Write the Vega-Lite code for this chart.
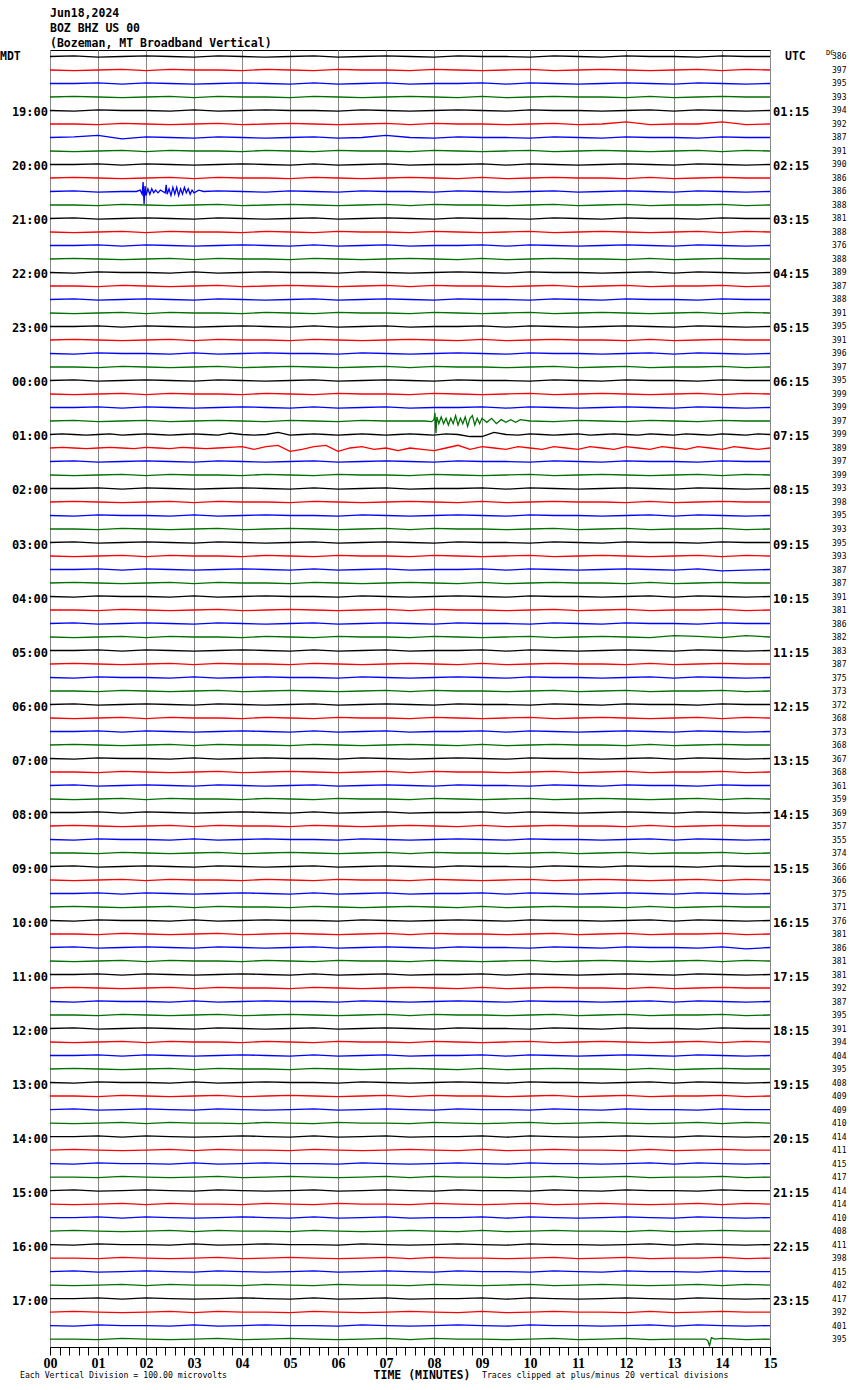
{
"$schema": "https://vega.github.io/schema/vega-lite/v6.json",
"width": 720, "height": 1297,
"autosize": {"type": "none"},
"padding": {"left": 50, "top": 50, "right": 80, "bottom": 43},
"background": "white",
"config": {"view": {"stroke": "#000", "strokeWidth": 1}, "font": "DejaVu Sans Mono"},
"title": {"text": ["Jun18,2024", "BOZ BHZ US 00", "(Bozeman, MT Broadband Vertical)"], "anchor": "start", "frame": "group", "font": "DejaVu Sans Mono", "fontSize": 11.5, "fontWeight": "bold", "color": "#000", "lineHeight": 15, "offset": 3, "dy": 14, "baseline": "bottom"},
"datasets": {
"grids": [
{"g":"a","x":[0,0.5,1,1.5,2,2.5,3,3.5,4,4.5,5,5.5,6,6.5,7,7.5,8,8.5,9,9.5,10,10.5,11,11.5,12,12.5,13,13.5,14,14.5,15]},
{"g":"b","x":[0,0.25,0.5,0.75,1,1.25,1.5,1.75,2,2.25,2.5,2.75,3,3.25,3.5,3.75,4,4.25,4.5,4.75,5,5.25,5.5,5.75,6,6.25,6.5,6.75,7,7.25,7.5,7.75,8,8.25,8.5,8.75,9,9.25,9.5,9.75,10,10.25,10.5,10.75,11,11.25,11.5,11.75,12,12.25,12.5,12.75,13,13.25,13.5,13.75,14,14.25,14.5,14.75,15]},
{"g":"e10","x":[0,0.5,1,1.5,1.8,1.88,1.92,1.94,1.96,1.98,2,2.04,2.08,2.12,2.16,2.2,2.25,2.3,2.35,2.4,2.42,2.44,2.48,2.52,2.56,2.6,2.64,2.68,2.72,2.76,2.8,2.84,2.88,2.92,2.96,3,3.1,3.2,3.5,4,4.5,5,5.5,6,6.5,7,7.5,8,8.5,9,9.5,10,10.5,11,11.5,12,12.5,13,13.5,14,14.5,15]},
{"g":"e27","x":[0,0.5,1,1.5,2,2.5,3,3.5,4,4.5,5,5.5,6,6.5,7,7.5,7.8,7.95,8,8.02,8.04,8.06,8.1,8.15,8.2,8.25,8.3,8.35,8.4,8.45,8.5,8.55,8.6,8.65,8.7,8.75,8.8,8.85,8.9,8.95,9,9.1,9.2,9.3,9.4,9.5,9.6,9.7,9.8,10,10.5,11,11.5,12,12.5,13,13.5,14,14.5,15]},
{"g":"e95","x":[0,0.5,1,1.5,2,2.5,3,3.5,4,4.5,5,5.5,6,6.5,7,7.5,8,8.5,9,9.5,10,10.5,11,11.5,12,12.5,13,13.5,13.65,13.7,13.74,13.78,13.85,14,14.5,15]}
],
"traces": [
{"t":0,"m":0,"g":"a","v":[0,1,-1,0,1,0,-1,1,0,-1,0,1,-1,0,1,0,-1,1,0,0,-1,1,0,-1,1,0,0,-1,1,0,0]},
{"t":1,"m":15,"g":"a","v":[0,-1,0,1,-1,1,0,0,-1,1,0,-1,1,0,0,-1,1,0,-1,0,1,-1,0,1,0,-1,0,1,-1,1,0]},
{"t":2,"m":30,"g":"a","v":[0,0,1,-1,1,0,-1,0,1,0,-1,1,-1,0,1,-1,0,0,1,-1,1,0,-1,0,1,0,-1,1,0,-1,0]},
{"t":3,"m":45,"g":"a","v":[0,1,0,-1,0,1,-1,1,0,0,-1,1,0,-1,0,1,0,-1,1,-1,0,1,0,0,-1,1,-1,0,1,0,0]},
{"t":4,"m":0,"g":"a","v":[0,-1,1,0,0,-1,1,-1,0,1,0,0,-1,1,0,-1,0,1,0,-1,1,0,0,-1,0,1,-1,1,0,-1,0]},
{"t":5,"m":15,"g":"a","v":[0,0,-1,1,0,-1,0,1,-1,0,1,0,-1,0,1,-1,1,0,0,-1,0,1,-1,0,3,-1,0,0,3,-1,0]},
{"t":6,"m":30,"g":"a","v":[0,1,3,-2,1,0,-1,1,0,-1,0,1,-1,0,3,0,-1,1,0,0,-1,1,0,-1,1,0,0,-1,1,0,0]},
{"t":7,"m":45,"g":"a","v":[0,-1,0,1,-1,1,0,0,-1,1,0,-1,1,0,0,-1,1,0,-1,0,1,-1,0,1,0,-1,0,1,-1,1,0]},
{"t":8,"m":0,"g":"a","v":[0,0,1,-1,1,0,-1,0,1,0,-1,1,-1,0,1,-1,0,0,1,-1,1,0,-1,0,1,0,-1,1,0,-1,0]},
{"t":9,"m":15,"g":"a","v":[0,1,0,-1,0,1,-1,1,0,0,-1,1,0,-1,0,1,0,-1,1,-1,0,1,0,0,-1,1,-1,0,1,0,0]},
{"t":10,"m":30,"g":"e10","v":[0,1,-1,0,0,2,-4,14,-19,8,-6,4,-4,4,-2,2,-2,2,0,-2,10,-4,4,-6,6,-4,6,-6,4,-4,6,-2,4,-4,2,-2,2,0,1,0,-1,1,0,-1,1,0,0,-1,1,0,-1,0,1,-1,0,1,0,-1,1,0,-1,0]},
{"t":11,"m":45,"g":"a","v":[0,0,-1,1,0,-1,0,1,-1,0,1,0,-1,0,1,-1,1,0,0,-1,0,1,-1,0,1,-1,0,0,1,-1,0]},
{"t":12,"m":0,"g":"a","v":[0,1,-1,0,1,0,-1,1,0,-1,0,1,-1,0,1,0,-1,1,0,0,-1,1,0,-1,1,0,0,-1,1,0,0]},
{"t":13,"m":15,"g":"a","v":[0,-1,0,1,-1,1,0,0,-1,1,0,-1,1,0,0,-1,1,0,-1,0,1,-1,0,1,0,-1,0,1,-1,1,0]},
{"t":14,"m":30,"g":"a","v":[0,0,1,-1,1,0,-1,0,1,0,-1,1,-1,0,1,-1,0,0,1,-1,1,0,-1,0,1,0,-1,1,0,-1,0]},
{"t":15,"m":45,"g":"a","v":[0,1,0,-1,0,1,-1,1,0,0,-1,1,0,-1,0,1,0,-1,1,-1,0,1,0,0,-1,1,-1,0,1,0,0]},
{"t":16,"m":0,"g":"a","v":[0,-1,1,0,0,-1,1,-1,0,1,0,0,-1,1,0,-1,0,1,0,-1,1,0,0,-1,0,1,-1,1,0,-1,0]},
{"t":17,"m":15,"g":"a","v":[0,0,-1,1,0,-1,0,1,-1,0,1,0,-1,0,1,-1,1,0,0,-1,0,1,-1,0,1,-1,0,0,1,-1,0]},
{"t":18,"m":30,"g":"a","v":[0,1,-1,0,1,0,-1,1,0,-1,0,1,-1,0,1,0,-1,1,0,0,-1,1,0,-1,1,0,0,-1,1,0,0]},
{"t":19,"m":45,"g":"a","v":[0,-1,0,1,-1,1,0,0,-1,1,0,-1,1,0,0,-1,1,0,-1,0,1,-1,0,1,0,-1,0,1,-1,1,0]},
{"t":20,"m":0,"g":"a","v":[0,0,1,-1,1,0,-1,0,1,0,-1,1,-1,0,1,-1,0,0,1,-1,1,0,-1,0,1,0,-1,1,0,-1,0]},
{"t":21,"m":15,"g":"a","v":[0,1,0,-1,0,1,-1,1,0,0,-1,1,0,-1,0,1,0,-1,1,-1,0,1,0,0,-1,1,-1,0,1,0,0]},
{"t":22,"m":30,"g":"a","v":[0,-1,1,0,0,-1,1,-1,0,1,0,0,-1,1,0,-1,0,1,0,-1,1,0,0,-1,0,1,-1,1,0,-1,0]},
{"t":23,"m":45,"g":"a","v":[0,0,-1,1,0,-1,0,1,-1,0,1,0,-1,0,1,-1,1,0,0,-1,0,1,-1,0,1,-1,0,0,1,-1,0]},
{"t":24,"m":0,"g":"a","v":[0,1,-1,0,1,0,-1,1,0,-1,0,1,-1,0,1,0,-1,1,0,0,-1,1,0,-1,1,0,0,-1,1,0,0]},
{"t":25,"m":15,"g":"a","v":[0,-1,0,1,-1,1,0,0,-1,1,0,-1,1,0,0,-1,1,0,-1,0,1,-1,0,1,0,-1,0,1,-1,1,0]},
{"t":26,"m":30,"g":"a","v":[0,0,1,-1,1,0,-1,0,1,0,-1,1,-1,0,1,-1,0,0,1,-1,1,0,-1,0,1,0,-1,1,0,-1,0]},
{"t":27,"m":45,"g":"e27","v":[0,1,-1,0,1,-1,0,1,0,-1,1,0,-1,1,0,0,0,-1,2,12,-18,6,-4,6,-4,4,-6,4,-4,8,-6,4,-4,6,-8,4,8,-6,4,-4,4,-2,4,-4,2,-2,2,-2,2,0,-1,1,0,-1,1,0,-1,1,0,0]},
{"t":28,"m":0,"g":"b","v":[0,1,0,-1,0,1,-1,0,1,0,-1,0,1,0,-1,2,0,-1,0,3,-1,0,1,0,-1,0,1,0,-1,0,1,0,-1,1,0,-3,-3,3,0,-1,1,0,-1,0,1,-1,0,1,0,-1,1,0,-1,1,0,-1,1,0,-1,1,0]},
{"t":29,"m":15,"g":"b","v":[0,1,0,-1,0,1,0,-1,1,0,-1,1,0,-1,0,1,2,-2,2,4,-5,-2,2,4,-5,0,2,-2,0,-4,0,-2,-4,0,4,-2,2,0,-2,2,0,-2,2,0,-2,2,0,-2,2,0,-2,2,0,-2,2,0,-2,2,0,-2,0]},
{"t":30,"m":30,"g":"a","v":[0,1,-1,0,1,0,-1,1,0,-1,0,1,-1,0,1,0,-1,1,0,0,-1,1,0,-1,1,0,0,-1,1,0,0]},
{"t":31,"m":45,"g":"a","v":[0,-1,0,1,-1,1,0,0,-1,1,0,-1,1,0,0,-1,1,0,-1,0,1,-1,0,1,0,-1,0,1,-1,1,0]},
{"t":32,"m":0,"g":"a","v":[0,0,1,-1,1,0,-1,0,1,0,-1,1,-1,0,1,-1,0,0,1,-1,1,0,-1,0,1,0,-1,1,0,-1,0]},
{"t":33,"m":15,"g":"a","v":[0,1,0,-1,0,1,-1,1,0,0,-1,1,0,-1,0,1,0,-1,1,-1,0,1,0,0,-1,1,-1,0,1,0,0]},
{"t":34,"m":30,"g":"a","v":[0,-1,1,0,0,-1,1,-1,0,1,0,0,-1,1,0,-1,0,1,0,-1,1,0,0,-1,0,1,-1,1,0,-1,0]},
{"t":35,"m":45,"g":"a","v":[0,0,-1,1,0,-1,0,1,-1,0,1,0,-1,0,1,-1,1,0,0,-1,0,1,-1,0,1,-1,0,0,1,-1,0]},
{"t":36,"m":0,"g":"a","v":[0,1,-1,0,1,0,-1,1,0,-1,0,1,-1,0,1,0,-1,1,0,0,-1,1,0,-1,1,0,0,-1,1,0,0]},
{"t":37,"m":15,"g":"a","v":[0,-1,0,1,-1,1,0,0,-1,1,0,-1,1,0,0,-1,1,0,-1,0,1,-1,0,1,0,-1,0,1,-1,1,0]},
{"t":38,"m":30,"g":"a","v":[0,0,1,-1,1,0,-1,0,1,0,-1,1,-1,0,1,-1,0,0,1,-1,1,0,-1,0,1,0,-1,1,-2,-1,0]},
{"t":39,"m":45,"g":"a","v":[0,1,0,-1,0,1,-1,1,0,0,-1,1,0,-1,0,1,0,-1,1,-1,0,1,0,0,-1,1,-1,0,1,0,0]},
{"t":40,"m":0,"g":"a","v":[0,-1,1,0,0,-1,1,-1,0,1,0,0,-1,1,0,-1,0,1,0,-1,1,0,0,-1,0,1,-1,1,0,-1,0]},
{"t":41,"m":15,"g":"a","v":[0,0,-1,1,0,-1,0,1,-1,0,1,0,-1,0,1,-1,1,0,0,-1,0,1,-1,0,1,-1,0,0,1,-1,0]},
{"t":42,"m":30,"g":"a","v":[0,1,-1,0,1,0,-1,1,0,-1,0,1,-1,0,1,0,-1,1,0,0,-1,1,0,-1,1,0,0,-1,1,0,0]},
{"t":43,"m":45,"g":"a","v":[0,-1,0,1,-1,1,0,0,-1,1,0,-1,1,0,0,-1,1,0,-1,0,1,-1,0,1,0,-1,2,1,-1,2,0]},
{"t":44,"m":0,"g":"a","v":[0,0,1,-1,1,0,-1,0,1,0,-1,1,-1,0,1,-1,0,0,1,-1,1,0,-1,0,1,0,-1,1,0,-1,0]},
{"t":45,"m":15,"g":"a","v":[0,1,0,-1,0,1,-1,1,0,0,-1,1,0,-1,0,1,0,-1,1,-1,0,1,0,0,-1,1,-1,0,1,0,0]},
{"t":46,"m":30,"g":"a","v":[0,-1,1,0,0,-1,1,-1,0,1,0,0,-1,1,0,-1,0,1,0,-1,1,0,0,-1,0,1,-1,1,0,-1,0]},
{"t":47,"m":45,"g":"a","v":[0,0,-1,1,0,-1,0,1,-1,0,1,0,-1,0,1,-1,1,0,0,-1,0,1,-1,0,1,-1,0,0,1,-1,0]},
{"t":48,"m":0,"g":"a","v":[0,1,-1,0,1,0,-1,1,0,-1,0,1,-1,0,1,0,-1,1,0,0,-1,1,0,-1,1,0,0,-1,1,0,0]},
{"t":49,"m":15,"g":"a","v":[0,-1,0,1,-1,1,0,0,-1,1,0,-1,1,0,0,-1,1,0,-1,0,1,-1,0,1,0,-1,0,1,-1,1,0]},
{"t":50,"m":30,"g":"a","v":[0,0,1,-1,1,0,-1,0,1,0,-1,1,-1,0,1,-1,0,0,1,-1,1,0,-1,0,1,0,-1,1,0,-1,0]},
{"t":51,"m":45,"g":"a","v":[0,1,0,-1,0,1,-1,1,0,0,-1,1,0,-1,0,1,0,-1,1,-1,0,1,0,0,-1,1,-1,0,1,0,0]},
{"t":52,"m":0,"g":"a","v":[0,-1,1,0,0,-1,1,-1,0,1,0,0,-1,1,0,-1,0,1,0,-1,1,0,0,-1,0,1,-1,1,0,-1,0]},
{"t":53,"m":15,"g":"a","v":[0,0,-1,1,0,-1,0,1,-1,0,1,0,-1,0,1,-1,1,0,0,-1,0,1,-1,0,1,-1,0,0,1,-1,0]},
{"t":54,"m":30,"g":"a","v":[0,1,-1,0,1,0,-1,1,0,-1,0,1,-1,0,1,0,-1,1,0,0,-1,1,0,-1,1,0,0,-1,1,0,0]},
{"t":55,"m":45,"g":"a","v":[0,-1,0,1,-1,1,0,0,-1,1,0,-1,1,0,0,-1,1,0,-1,0,1,-1,0,1,0,-1,0,1,-1,1,0]},
{"t":56,"m":0,"g":"a","v":[0,0,1,-1,1,0,-1,0,1,0,-1,1,-1,0,1,-1,0,0,1,-1,1,0,-1,0,1,0,-1,1,0,-1,0]},
{"t":57,"m":15,"g":"a","v":[0,1,0,-1,0,1,-1,1,0,0,-1,1,0,-1,0,1,0,-1,1,-1,0,1,0,0,-1,1,-1,0,1,0,0]},
{"t":58,"m":30,"g":"a","v":[0,-1,1,0,0,-1,1,-1,0,1,0,0,-1,1,0,-1,0,1,0,-1,1,0,0,-1,0,1,-1,1,0,-1,0]},
{"t":59,"m":45,"g":"a","v":[0,0,-1,1,0,-1,0,1,-1,0,1,0,-1,0,1,-1,1,0,0,-1,0,1,-1,0,1,-1,0,0,1,-1,0]},
{"t":60,"m":0,"g":"a","v":[0,1,-1,0,1,0,-1,1,0,-1,0,1,-1,0,1,0,-1,1,0,0,-1,1,0,-1,1,0,0,-1,1,0,0]},
{"t":61,"m":15,"g":"a","v":[0,-1,0,1,-1,1,0,0,-1,1,0,-1,1,0,0,-1,1,0,-1,0,1,-1,0,1,0,-1,0,1,-1,1,0]},
{"t":62,"m":30,"g":"a","v":[0,0,1,-1,1,0,-1,0,1,0,-1,1,-1,0,1,-1,0,0,1,-1,1,0,-1,0,1,0,-1,1,0,-1,0]},
{"t":63,"m":45,"g":"a","v":[0,1,0,-1,0,1,-1,1,0,0,-1,1,0,-1,0,1,0,-1,1,-1,0,1,0,0,-1,1,-1,0,1,0,0]},
{"t":64,"m":0,"g":"a","v":[0,-1,1,0,0,-1,1,-1,0,1,0,0,-1,1,0,-1,0,1,0,-1,1,0,0,-1,0,1,-1,1,0,-1,0]},
{"t":65,"m":15,"g":"a","v":[0,0,-1,1,0,-1,0,1,-1,0,1,0,-1,0,1,-1,1,0,0,-1,0,1,-1,0,1,-1,0,0,1,-1,0]},
{"t":66,"m":30,"g":"a","v":[0,1,-1,0,1,0,-1,1,0,-1,0,1,-1,0,1,0,-1,1,0,0,-1,1,0,-1,1,0,0,-1,1,-2,0]},
{"t":67,"m":45,"g":"a","v":[0,-1,0,1,-1,1,0,0,-1,1,0,-1,1,0,0,-1,1,0,-1,0,1,-1,0,1,0,-1,0,1,-1,1,0]},
{"t":68,"m":0,"g":"a","v":[0,0,1,-1,1,0,-1,0,1,0,-1,1,-1,0,1,-1,0,0,1,-1,1,0,-1,0,1,0,-1,1,0,-1,0]},
{"t":69,"m":15,"g":"a","v":[0,1,0,-1,0,1,-1,1,0,0,-1,1,0,-1,0,1,0,-1,1,-1,0,1,0,0,-1,1,-1,0,1,0,0]},
{"t":70,"m":30,"g":"a","v":[0,-1,1,0,0,-1,1,-1,0,1,0,0,-1,1,0,-1,0,1,0,-1,1,0,0,-1,0,1,-1,1,0,-1,0]},
{"t":71,"m":45,"g":"a","v":[0,0,-1,1,0,-1,0,1,-1,0,1,0,-1,0,1,-1,1,0,0,-1,0,1,-1,0,1,-1,0,0,1,-1,0]},
{"t":72,"m":0,"g":"a","v":[0,1,-1,0,1,0,-1,1,0,-1,0,1,-1,0,1,0,-1,1,0,0,-1,1,0,-1,1,0,0,-1,1,0,0]},
{"t":73,"m":15,"g":"a","v":[0,-1,0,1,-1,1,0,0,-1,1,0,-1,1,0,0,-1,1,0,-1,0,1,-1,0,1,0,-1,0,1,-1,1,0]},
{"t":74,"m":30,"g":"a","v":[0,0,1,-1,1,0,-1,0,1,0,-1,1,-1,0,1,-1,0,0,1,-1,1,0,-1,0,1,0,-1,1,0,-1,0]},
{"t":75,"m":45,"g":"a","v":[0,1,0,-1,0,1,-1,1,0,0,-1,1,0,-1,0,1,0,-1,1,-1,0,1,0,0,-1,1,-1,0,1,0,0]},
{"t":76,"m":0,"g":"a","v":[0,-1,1,0,0,-1,1,-1,0,1,0,0,-1,1,0,-1,0,1,0,-1,1,0,0,-1,0,1,-1,1,0,-1,0]},
{"t":77,"m":15,"g":"a","v":[0,0,-1,1,0,-1,0,1,-1,0,1,0,-1,0,1,-1,1,0,0,-1,0,1,-1,0,1,-1,0,0,1,-1,0]},
{"t":78,"m":30,"g":"a","v":[0,1,-1,0,1,0,-1,1,0,-1,0,1,-1,0,1,0,-1,1,0,0,-1,1,0,-1,1,0,0,-1,1,0,0]},
{"t":79,"m":45,"g":"a","v":[0,-1,0,1,-1,1,0,0,-1,1,0,-1,1,0,0,-1,1,0,-1,0,1,-1,0,1,0,-1,0,1,-1,1,0]},
{"t":80,"m":0,"g":"a","v":[0,0,1,-1,1,0,-1,0,1,0,-1,1,-1,0,1,-1,0,0,1,-1,1,0,-1,0,1,0,-1,1,0,-1,0]},
{"t":81,"m":15,"g":"a","v":[0,1,0,-1,0,1,-1,1,0,0,-1,1,0,-1,0,1,0,-1,1,-1,0,1,0,0,-1,1,-1,0,1,0,0]},
{"t":82,"m":30,"g":"a","v":[0,-1,1,0,0,-1,1,-1,0,1,0,0,-1,1,0,-1,0,1,0,-1,1,0,0,-1,0,1,-1,1,0,-1,0]},
{"t":83,"m":45,"g":"a","v":[0,0,-1,1,0,-1,0,1,-1,0,1,0,-1,0,1,-1,1,0,0,-1,0,1,-1,0,1,-1,0,0,1,-1,0]},
{"t":84,"m":0,"g":"a","v":[0,1,-1,0,1,0,-1,1,0,-1,0,1,-1,0,1,0,-1,1,0,0,-1,1,0,-1,1,0,0,-1,1,0,0]},
{"t":85,"m":15,"g":"a","v":[0,-1,0,1,-1,1,0,0,-1,1,0,-1,1,0,0,-1,1,0,-1,0,1,-1,0,1,0,-1,0,1,-1,1,0]},
{"t":86,"m":30,"g":"a","v":[0,0,1,-1,1,0,-1,0,1,0,-1,1,-1,0,1,-1,0,0,1,-1,1,0,-1,0,1,0,-1,1,0,-1,0]},
{"t":87,"m":45,"g":"a","v":[0,1,0,-1,0,1,-1,1,0,0,-1,1,0,-1,0,1,0,-1,1,-1,0,1,0,0,-1,1,-1,0,1,0,0]},
{"t":88,"m":0,"g":"a","v":[0,-1,1,0,0,-1,1,-1,0,1,0,0,-1,1,0,-1,0,1,0,-1,1,0,0,-1,0,1,-1,1,0,-1,0]},
{"t":89,"m":15,"g":"a","v":[0,0,-1,1,0,-1,0,1,-1,0,1,0,-1,0,1,-1,1,0,0,-1,0,1,-1,0,1,-1,0,0,1,-1,0]},
{"t":90,"m":30,"g":"a","v":[0,1,-1,0,1,0,-1,1,0,-1,0,1,-1,0,1,0,-1,1,0,0,-1,1,0,-1,1,0,0,-1,1,0,0]},
{"t":91,"m":45,"g":"a","v":[0,-1,0,1,-1,1,0,0,-1,1,0,-1,1,0,0,-1,1,0,-1,0,1,-1,0,1,0,-1,0,1,-1,1,0]},
{"t":92,"m":0,"g":"a","v":[0,0,1,-1,1,0,-1,0,1,0,-1,1,-1,0,1,-1,0,0,1,-1,1,0,-1,0,1,0,-1,1,0,-1,0]},
{"t":93,"m":15,"g":"a","v":[0,1,0,-1,0,1,-1,1,0,0,-1,1,0,-1,0,1,0,-1,1,-1,0,1,0,0,-1,1,-1,0,1,0,0]},
{"t":94,"m":30,"g":"a","v":[0,-1,1,0,0,-1,1,-1,0,1,0,0,-1,1,0,-1,0,1,0,-1,1,0,0,-1,0,1,-1,1,0,-1,0]},
{"t":95,"m":45,"g":"e95","v":[0,0,-1,1,0,-1,0,1,-1,0,1,0,-1,0,1,-1,1,0,0,-1,0,1,-1,0,1,-1,0,0,0,-2,-10,2,0,1,-1,0]}
],
"labels": [
{"t":0,"dc":"386"},{"t":1,"dc":"397"},{"t":2,"dc":"395"},{"t":3,"dc":"393"},
{"t":4,"lt":"19:00","rt":"01:15","dc":"394"},{"t":5,"dc":"392"},{"t":6,"dc":"387"},{"t":7,"dc":"391"},
{"t":8,"lt":"20:00","rt":"02:15","dc":"390"},{"t":9,"dc":"386"},{"t":10,"dc":"386"},{"t":11,"dc":"388"},
{"t":12,"lt":"21:00","rt":"03:15","dc":"381"},{"t":13,"dc":"388"},{"t":14,"dc":"376"},{"t":15,"dc":"388"},
{"t":16,"lt":"22:00","rt":"04:15","dc":"389"},{"t":17,"dc":"387"},{"t":18,"dc":"388"},{"t":19,"dc":"391"},
{"t":20,"lt":"23:00","rt":"05:15","dc":"395"},{"t":21,"dc":"391"},{"t":22,"dc":"396"},{"t":23,"dc":"397"},
{"t":24,"lt":"00:00","rt":"06:15","dc":"395"},{"t":25,"dc":"399"},{"t":26,"dc":"399"},{"t":27,"dc":"397"},
{"t":28,"lt":"01:00","rt":"07:15","dc":"399"},{"t":29,"dc":"389"},{"t":30,"dc":"397"},{"t":31,"dc":"399"},
{"t":32,"lt":"02:00","rt":"08:15","dc":"393"},{"t":33,"dc":"398"},{"t":34,"dc":"395"},{"t":35,"dc":"393"},
{"t":36,"lt":"03:00","rt":"09:15","dc":"395"},{"t":37,"dc":"393"},{"t":38,"dc":"387"},{"t":39,"dc":"387"},
{"t":40,"lt":"04:00","rt":"10:15","dc":"391"},{"t":41,"dc":"381"},{"t":42,"dc":"386"},{"t":43,"dc":"382"},
{"t":44,"lt":"05:00","rt":"11:15","dc":"383"},{"t":45,"dc":"387"},{"t":46,"dc":"375"},{"t":47,"dc":"373"},
{"t":48,"lt":"06:00","rt":"12:15","dc":"372"},{"t":49,"dc":"368"},{"t":50,"dc":"373"},{"t":51,"dc":"368"},
{"t":52,"lt":"07:00","rt":"13:15","dc":"367"},{"t":53,"dc":"368"},{"t":54,"dc":"361"},{"t":55,"dc":"359"},
{"t":56,"lt":"08:00","rt":"14:15","dc":"369"},{"t":57,"dc":"357"},{"t":58,"dc":"355"},{"t":59,"dc":"374"},
{"t":60,"lt":"09:00","rt":"15:15","dc":"366"},{"t":61,"dc":"366"},{"t":62,"dc":"375"},{"t":63,"dc":"371"},
{"t":64,"lt":"10:00","rt":"16:15","dc":"376"},{"t":65,"dc":"381"},{"t":66,"dc":"386"},{"t":67,"dc":"381"},
{"t":68,"lt":"11:00","rt":"17:15","dc":"381"},{"t":69,"dc":"392"},{"t":70,"dc":"387"},{"t":71,"dc":"395"},
{"t":72,"lt":"12:00","rt":"18:15","dc":"391"},{"t":73,"dc":"394"},{"t":74,"dc":"404"},{"t":75,"dc":"395"},
{"t":76,"lt":"13:00","rt":"19:15","dc":"408"},{"t":77,"dc":"409"},{"t":78,"dc":"409"},{"t":79,"dc":"410"},
{"t":80,"lt":"14:00","rt":"20:15","dc":"414"},{"t":81,"dc":"411"},{"t":82,"dc":"415"},{"t":83,"dc":"417"},
{"t":84,"lt":"15:00","rt":"21:15","dc":"414"},{"t":85,"dc":"414"},{"t":86,"dc":"410"},{"t":87,"dc":"408"},
{"t":88,"lt":"16:00","rt":"22:15","dc":"411"},{"t":89,"dc":"398"},{"t":90,"dc":"415"},{"t":91,"dc":"402"},
{"t":92,"lt":"17:00","rt":"23:15","dc":"417"},{"t":93,"dc":"392"},{"t":94,"dc":"401"},{"t":95,"dc":"395"}
],
"heads": [{"t":0,"l":"MDT","r":"UTC","d":"DC"}],
"notes": [{"a":"TIME (MINUTES)","b":"Each Vertical Division =  100.00 microvolts","c":"Traces clipped at plus/minus 20 vertical divisions"}]
},
"layer": [
{
"data": {"name": "traces"},
"transform": [
{"lookup": "g", "from": {"data": {"name": "grids"}, "key": "g", "fields": ["x"]}},
{"flatten": ["x", "v"]},
{"calculate": "datum.t - datum.v / 20", "as": "yy"}
],
"mark": {"type": "line", "strokeWidth": 1.3},
"encoding": {
"x": {"field": "x", "type": "quantitative", "scale": {"domain": [0, 15], "nice": false, "zero": false},
"axis": {"values": [0,0.2,0.4,0.6,0.8,1,1.2,1.4,1.6,1.8,2,2.2,2.4,2.6,2.8,3,3.2,3.4,3.6,3.8,4,4.2,4.4,4.6,4.8,5,5.2,5.4,5.6,5.8,6,6.2,6.4,6.6,6.8,7,7.2,7.4,7.6,7.8,8,8.2,8.4,8.6,8.8,9,9.2,9.4,9.6,9.8,10,10.2,10.4,10.6,10.8,11,11.2,11.4,11.6,11.8,12,12.2,12.4,12.6,12.8,13,13.2,13.4,13.6,13.8,14,14.2,14.4,14.6,14.8,15],
"tickCount": 200,
"grid": true, "gridColor": "#888888", "gridWidth": 1,
"gridOpacity": {"condition": {"test": "datum.value % 1 !== 0", "value": 0}, "value": 1},
"domain": true, "domainColor": "#000", "domainWidth": 1,
"ticks": true, "tickColor": "#000", "tickSize": 8, "tickWidth": 1,
"labelExpr": "datum.value % 1 !== 0 ? '' : (datum.value < 10 ? '0' + datum.value : '' + datum.value)",
"labelFont": "Liberation Serif", "labelFontSize": 14, "labelFontWeight": "bold", "labelColor": "#000",
"labelPadding": 1, "labelOverlap": false, "labelFlush": false, "title": null}},
"y": {"field": "yy", "type": "quantitative", "scale": {"domain": [-0.48, 95.59], "reverse": true, "nice": false, "zero": false}, "axis": null},
"color": {"field": "m", "type": "nominal", "scale": {"domain": [0, 15, 30, 45], "range": ["#000000", "#ff0000", "#0000ff", "#007000"]}, "legend": null},
"detail": {"field": "t", "type": "nominal"}
}
},
{
"data": {"name": "labels"},
"transform": [{"filter": "datum.lt != null"}],
"mark": {"type": "text", "align": "right", "baseline": "middle", "dx": -2, "dy": 2, "font": "DejaVu Sans Mono", "fontSize": 12, "fontWeight": "bold", "color": "#000"},
"encoding": {
"x": {"datum": 0, "type": "quantitative", "scale": {"domain": [0, 15], "nice": false, "zero": false}},
"y": {"field": "t", "type": "quantitative", "scale": {"domain": [-0.48, 95.59], "reverse": true, "nice": false, "zero": false}, "axis": null},
"text": {"field": "lt"}
}
},
{
"data": {"name": "labels"},
"transform": [{"filter": "datum.rt != null"}],
"mark": {"type": "text", "align": "left", "baseline": "middle", "dx": 3, "dy": 2, "font": "DejaVu Sans Mono", "fontSize": 12, "fontWeight": "bold", "color": "#000"},
"encoding": {
"x": {"datum": 15, "type": "quantitative", "scale": {"domain": [0, 15], "nice": false, "zero": false}},
"y": {"field": "t", "type": "quantitative", "scale": {"domain": [-0.48, 95.59], "reverse": true, "nice": false, "zero": false}, "axis": null},
"text": {"field": "rt"}
}
},
{
"data": {"name": "labels"},
"mark": {"type": "text", "align": "left", "baseline": "middle", "dx": 62, "dy": 1, "font": "DejaVu Sans Mono", "fontSize": 8, "color": "#000"},
"encoding": {
"x": {"datum": 15, "type": "quantitative", "scale": {"domain": [0, 15], "nice": false, "zero": false}},
"y": {"field": "t", "type": "quantitative", "scale": {"domain": [-0.48, 95.59], "reverse": true, "nice": false, "zero": false}, "axis": null},
"text": {"field": "dc"}
}
},
{
"data": {"name": "heads"},
"mark": {"type": "text", "align": "left", "baseline": "middle", "dx": -50, "dy": 1, "font": "DejaVu Sans Mono", "fontSize": 11.5, "fontWeight": "bold", "color": "#000"},
"encoding": {
"x": {"datum": 0, "type": "quantitative", "scale": {"domain": [0, 15], "nice": false, "zero": false}},
"y": {"field": "t", "type": "quantitative", "scale": {"domain": [-0.48, 95.59], "reverse": true, "nice": false, "zero": false}, "axis": null},
"text": {"field": "l"}
}
},
{
"data": {"name": "heads"},
"mark": {"type": "text", "align": "left", "baseline": "middle", "dx": 15, "dy": 1, "font": "DejaVu Sans Mono", "fontSize": 11.5, "fontWeight": "bold", "color": "#000"},
"encoding": {
"x": {"datum": 15, "type": "quantitative", "scale": {"domain": [0, 15], "nice": false, "zero": false}},
"y": {"field": "t", "type": "quantitative", "scale": {"domain": [-0.48, 95.59], "reverse": true, "nice": false, "zero": false}, "axis": null},
"text": {"field": "r"}
}
},
{
"data": {"name": "heads"},
"mark": {"type": "text", "align": "left", "baseline": "middle", "dx": 56, "dy": -3, "font": "DejaVu Sans Mono", "fontSize": 7, "color": "#000"},
"encoding": {
"x": {"datum": 15, "type": "quantitative", "scale": {"domain": [0, 15], "nice": false, "zero": false}},
"y": {"field": "t", "type": "quantitative", "scale": {"domain": [-0.48, 95.59], "reverse": true, "nice": false, "zero": false}, "axis": null},
"text": {"field": "d"}
}
},
{
"data": {"name": "notes"},
"mark": {"type": "text", "align": "center", "baseline": "middle", "dx": 12, "dy": 29, "font": "DejaVu Sans Mono", "fontSize": 11.5, "fontWeight": "bold", "color": "#000"},
"encoding": {
"x": {"datum": 7.5, "type": "quantitative", "scale": {"domain": [0, 15], "nice": false, "zero": false}},
"y": {"datum": 95.59, "type": "quantitative", "scale": {"domain": [-0.48, 95.59], "reverse": true, "nice": false, "zero": false}, "axis": null},
"text": {"field": "a"}
}
},
{
"data": {"name": "notes"},
"mark": {"type": "text", "align": "left", "baseline": "middle", "dx": -30, "dy": 29, "font": "DejaVu Sans Mono", "fontSize": 8.2, "color": "#000"},
"encoding": {
"x": {"datum": 0, "type": "quantitative", "scale": {"domain": [0, 15], "nice": false, "zero": false}},
"y": {"datum": 95.59, "type": "quantitative", "scale": {"domain": [-0.48, 95.59], "reverse": true, "nice": false, "zero": false}, "axis": null},
"text": {"field": "b"}
}
},
{
"data": {"name": "notes"},
"mark": {"type": "text", "align": "left", "baseline": "middle", "dx": 0, "dy": 29, "font": "DejaVu Sans Mono", "fontSize": 8.2, "color": "#000"},
"encoding": {
"x": {"datum": 9, "type": "quantitative", "scale": {"domain": [0, 15], "nice": false, "zero": false}},
"y": {"datum": 95.59, "type": "quantitative", "scale": {"domain": [-0.48, 95.59], "reverse": true, "nice": false, "zero": false}, "axis": null},
"text": {"field": "c"}
}
}
]
}
